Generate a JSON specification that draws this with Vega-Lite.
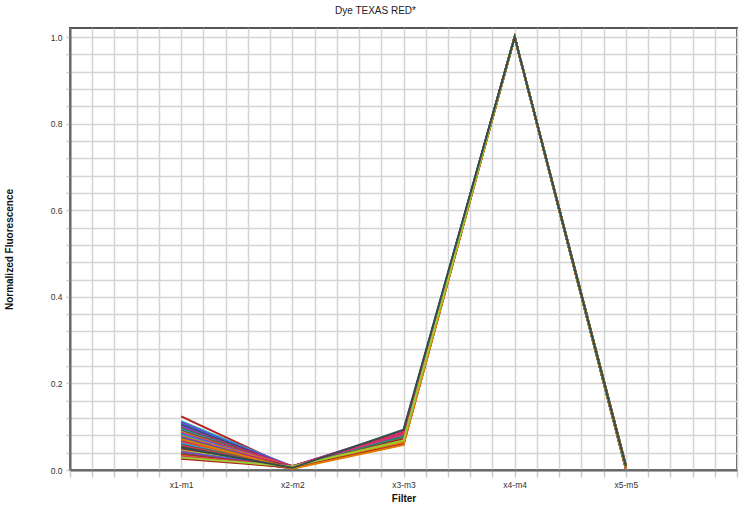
{
  "$schema": "https://vega.github.io/schema/vega-lite/v6.json",
  "width": 667,
  "height": 442,
  "autosize": {"type": "none"},
  "padding": {"left": 70, "top": 28, "right": 13, "bottom": 35},
  "background": "white",
  "title": {
    "text": "Dye TEXAS RED*",
    "font": "Liberation Sans",
    "fontSize": 10,
    "fontWeight": "normal",
    "color": "#222222",
    "anchor": "middle",
    "frame": "group",
    "dx": -28,
    "offset": 12
  },
  "config": {
    "view": {"stroke": "#555555", "strokeWidth": 2},
    "axis": {
      "labelFont": "Liberation Sans",
      "labelFontSize": 8.5,
      "labelColor": "#333333",
      "titleFont": "Liberation Sans",
      "titleFontSize": 10,
      "titleFontWeight": "bold",
      "titleColor": "#111111",
      "gridColor": "#d4d4d4",
      "gridWidth": 1.5,
      "gridOpacity": 1,
      "tickColor": "#c8c8c8",
      "tickWidth": 1.5,
      "domainColor": "#666666",
      "domainWidth": 2
    }
  },
  "data": {
    "values": [
      {"s":"S01","i":1,"v":0.124},{"s":"S01","i":2,"v":0.004},{"s":"S01","i":3,"v":0.071},{"s":"S01","i":4,"v":1.0},{"s":"S01","i":5,"v":0.006},
      {"s":"S02","i":1,"v":0.113},{"s":"S02","i":2,"v":0.007},{"s":"S02","i":3,"v":0.084},{"s":"S02","i":4,"v":1.0},{"s":"S02","i":5,"v":0.004},
      {"s":"S03","i":1,"v":0.110},{"s":"S03","i":2,"v":0.005},{"s":"S03","i":3,"v":0.079},{"s":"S03","i":4,"v":1.0},{"s":"S03","i":5,"v":0.009},
      {"s":"S04","i":1,"v":0.107},{"s":"S04","i":2,"v":0.009},{"s":"S04","i":3,"v":0.088},{"s":"S04","i":4,"v":1.0},{"s":"S04","i":5,"v":0.005},
      {"s":"S05","i":1,"v":0.104},{"s":"S05","i":2,"v":0.006},{"s":"S05","i":3,"v":0.075},{"s":"S05","i":4,"v":1.0},{"s":"S05","i":5,"v":0.011},
      {"s":"S06","i":1,"v":0.101},{"s":"S06","i":2,"v":0.003},{"s":"S06","i":3,"v":0.082},{"s":"S06","i":4,"v":1.0},{"s":"S06","i":5,"v":0.003},
      {"s":"S07","i":1,"v":0.098},{"s":"S07","i":2,"v":0.008},{"s":"S07","i":3,"v":0.090},{"s":"S07","i":4,"v":1.0},{"s":"S07","i":5,"v":0.007},
      {"s":"S08","i":1,"v":0.096},{"s":"S08","i":2,"v":0.005},{"s":"S08","i":3,"v":0.069},{"s":"S08","i":4,"v":1.0},{"s":"S08","i":5,"v":0.008},
      {"s":"S09","i":1,"v":0.093},{"s":"S09","i":2,"v":0.004},{"s":"S09","i":3,"v":0.077},{"s":"S09","i":4,"v":1.0},{"s":"S09","i":5,"v":0.006},
      {"s":"S10","i":1,"v":0.091},{"s":"S10","i":2,"v":0.007},{"s":"S10","i":3,"v":0.086},{"s":"S10","i":4,"v":1.0},{"s":"S10","i":5,"v":0.004},
      {"s":"S11","i":1,"v":0.088},{"s":"S11","i":2,"v":0.005},{"s":"S11","i":3,"v":0.073},{"s":"S11","i":4,"v":1.0},{"s":"S11","i":5,"v":0.009},
      {"s":"S12","i":1,"v":0.086},{"s":"S12","i":2,"v":0.009},{"s":"S12","i":3,"v":0.080},{"s":"S12","i":4,"v":1.0},{"s":"S12","i":5,"v":0.005},
      {"s":"S13","i":1,"v":0.083},{"s":"S13","i":2,"v":0.006},{"s":"S13","i":3,"v":0.066},{"s":"S13","i":4,"v":1.0},{"s":"S13","i":5,"v":0.011},
      {"s":"S14","i":1,"v":0.081},{"s":"S14","i":2,"v":0.003},{"s":"S14","i":3,"v":0.087},{"s":"S14","i":4,"v":1.0},{"s":"S14","i":5,"v":0.003},
      {"s":"S15","i":1,"v":0.078},{"s":"S15","i":2,"v":0.008},{"s":"S15","i":3,"v":0.074},{"s":"S15","i":4,"v":1.0},{"s":"S15","i":5,"v":0.007},
      {"s":"S16","i":1,"v":0.076},{"s":"S16","i":2,"v":0.005},{"s":"S16","i":3,"v":0.083},{"s":"S16","i":4,"v":1.0},{"s":"S16","i":5,"v":0.008},
      {"s":"S17","i":1,"v":0.073},{"s":"S17","i":2,"v":0.004},{"s":"S17","i":3,"v":0.070},{"s":"S17","i":4,"v":1.0},{"s":"S17","i":5,"v":0.006},
      {"s":"S18","i":1,"v":0.028},{"s":"S18","i":2,"v":0.007},{"s":"S18","i":3,"v":0.078},{"s":"S18","i":4,"v":1.0},{"s":"S18","i":5,"v":0.004},
      {"s":"S19","i":1,"v":0.068},{"s":"S19","i":2,"v":0.005},{"s":"S19","i":3,"v":0.085},{"s":"S19","i":4,"v":1.0},{"s":"S19","i":5,"v":0.009},
      {"s":"S20","i":1,"v":0.066},{"s":"S20","i":2,"v":0.009},{"s":"S20","i":3,"v":0.068},{"s":"S20","i":4,"v":1.0},{"s":"S20","i":5,"v":0.005},
      {"s":"S21","i":1,"v":0.063},{"s":"S21","i":2,"v":0.006},{"s":"S21","i":3,"v":0.076},{"s":"S21","i":4,"v":1.0},{"s":"S21","i":5,"v":0.011},
      {"s":"S22","i":1,"v":0.061},{"s":"S22","i":2,"v":0.003},{"s":"S22","i":3,"v":0.081},{"s":"S22","i":4,"v":1.0},{"s":"S22","i":5,"v":0.003},
      {"s":"S23","i":1,"v":0.058},{"s":"S23","i":2,"v":0.008},{"s":"S23","i":3,"v":0.064},{"s":"S23","i":4,"v":1.0},{"s":"S23","i":5,"v":0.007},
      {"s":"S24","i":1,"v":0.056},{"s":"S24","i":2,"v":0.005},{"s":"S24","i":3,"v":0.089},{"s":"S24","i":4,"v":1.0},{"s":"S24","i":5,"v":0.008},
      {"s":"S25","i":1,"v":0.053},{"s":"S25","i":2,"v":0.004},{"s":"S25","i":3,"v":0.072},{"s":"S25","i":4,"v":1.0},{"s":"S25","i":5,"v":0.006},
      {"s":"S26","i":1,"v":0.051},{"s":"S26","i":2,"v":0.007},{"s":"S26","i":3,"v":0.079},{"s":"S26","i":4,"v":1.0},{"s":"S26","i":5,"v":0.004},
      {"s":"S27","i":1,"v":0.049},{"s":"S27","i":2,"v":0.005},{"s":"S27","i":3,"v":0.067},{"s":"S27","i":4,"v":1.0},{"s":"S27","i":5,"v":0.009},
      {"s":"S28","i":1,"v":0.047},{"s":"S28","i":2,"v":0.009},{"s":"S28","i":3,"v":0.084},{"s":"S28","i":4,"v":1.0},{"s":"S28","i":5,"v":0.005},
      {"s":"S29","i":1,"v":0.045},{"s":"S29","i":2,"v":0.006},{"s":"S29","i":3,"v":0.062},{"s":"S29","i":4,"v":1.0},{"s":"S29","i":5,"v":0.011},
      {"s":"S30","i":1,"v":0.043},{"s":"S30","i":2,"v":0.003},{"s":"S30","i":3,"v":0.074},{"s":"S30","i":4,"v":1.0},{"s":"S30","i":5,"v":0.003},
      {"s":"S31","i":1,"v":0.041},{"s":"S31","i":2,"v":0.008},{"s":"S31","i":3,"v":0.080},{"s":"S31","i":4,"v":1.0},{"s":"S31","i":5,"v":0.007},
      {"s":"S32","i":1,"v":0.039},{"s":"S32","i":2,"v":0.005},{"s":"S32","i":3,"v":0.060},{"s":"S32","i":4,"v":1.0},{"s":"S32","i":5,"v":0.008},
      {"s":"S33","i":1,"v":0.037},{"s":"S33","i":2,"v":0.004},{"s":"S33","i":3,"v":0.077},{"s":"S33","i":4,"v":1.0},{"s":"S33","i":5,"v":0.006},
      {"s":"S34","i":1,"v":0.035},{"s":"S34","i":2,"v":0.007},{"s":"S34","i":3,"v":0.071},{"s":"S34","i":4,"v":1.0},{"s":"S34","i":5,"v":0.004},
      {"s":"S35","i":1,"v":0.033},{"s":"S35","i":2,"v":0.005},{"s":"S35","i":3,"v":0.065},{"s":"S35","i":4,"v":1.0},{"s":"S35","i":5,"v":0.009},
      {"s":"S36","i":1,"v":0.031},{"s":"S36","i":2,"v":0.009},{"s":"S36","i":3,"v":0.083},{"s":"S36","i":4,"v":1.0},{"s":"S36","i":5,"v":0.005},
      {"s":"S37","i":1,"v":0.026},{"s":"S37","i":2,"v":0.006},{"s":"S37","i":3,"v":0.059},{"s":"S37","i":4,"v":1.0},{"s":"S37","i":5,"v":0.011},
      {"s":"S38","i":1,"v":0.071},{"s":"S38","i":2,"v":0.003},{"s":"S38","i":3,"v":0.058},{"s":"S38","i":4,"v":1.0},{"s":"S38","i":5,"v":0.003},
      {"s":"S39","i":1,"v":0.029},{"s":"S39","i":2,"v":0.008},{"s":"S39","i":3,"v":0.068},{"s":"S39","i":4,"v":1.0},{"s":"S39","i":5,"v":0.007},
      {"s":"S40","i":1,"v":0.052},{"s":"S40","i":2,"v":0.005},{"s":"S40","i":3,"v":0.093},{"s":"S40","i":4,"v":1.0},{"s":"S40","i":5,"v":0.008}
    ]
  },
  "mark": {"type": "line", "strokeWidth": 2, "clip": true},
  "encoding": {
    "x": {
      "field": "i",
      "type": "quantitative",
      "title": "Filter",
      "scale": {"domain": [0, 6], "nice": false, "zero": false},
      "axis": {
        "values": [0,0.2,0.4,0.6,0.8,1,1.2,1.4,1.6,1.8,2,2.2,2.4,2.6,2.8,3,3.2,3.4,3.6,3.8,4,4.2,4.4,4.6,4.8,5,5.2,5.4,5.6,5.8,6],
        "labelExpr": "(abs(datum.value - round(datum.value)) < 0.001 && datum.value >= 1 && datum.value <= 5) ? 'x' + round(datum.value) + '-m' + round(datum.value) : ''",
        "tickSize": 7,
        "labelPadding": 3,
        "labelOverlap": false,
        "labelFlush": false,
        "titleY": 28,
        "titleBaseline": "middle"
      }
    },
    "y": {
      "field": "v",
      "type": "quantitative",
      "title": "Normalized Fluorescence",
      "scale": {"domain": [0, 1.021], "nice": false},
      "axis": {
        "values": [0,0.04,0.08,0.12,0.16,0.2,0.24,0.28,0.32,0.36,0.4,0.44,0.48,0.52,0.56,0.6,0.64,0.68,0.72,0.76,0.8,0.84,0.88,0.92,0.96,1.0],
        "labelExpr": "abs(datum.value * 5 - round(datum.value * 5)) < 0.001 ? format(datum.value, '.1f') : ''",
        "tickSize": 4,
        "labelPadding": 4,
        "labelOverlap": false,
        "labelFlush": false,
        "titleX": -61,
        "titleY": 221,
        "titleAngle": -90,
        "titleAlign": "center",
        "titleBaseline": "middle"
      }
    },
    "color": {
      "field": "s",
      "type": "nominal",
      "legend": null,
      "scale": {
        "domain": ["S01","S02","S03","S04","S05","S06","S07","S08","S09","S10","S11","S12","S13","S14","S15","S16","S17","S18","S19","S20","S21","S22","S23","S24","S25","S26","S27","S28","S29","S30","S31","S32","S33","S34","S35","S36","S37","S38","S39","S40"],
        "range": ["#b22222","#20b2aa","#8a2be2","#4169e1","#2f4f4f","#6a5acd","#c71585","#2e8b57","#1e90ff","#8b4513","#9acd32","#d6336c","#4169e1","#20b2aa","#e07b00","#8a2be2","#2e8b57","#b22222","#6a5acd","#c71585","#e07b00","#1e90ff","#556b2f","#d6336c","#8b4513","#2e8b57","#c71585","#b22222","#9acd32","#d6336c","#4169e1","#c71585","#2e8b57","#b22222","#e07b00","#d6336c","#b22222","#e07b00","#9acd32","#2f4f4f"]
      }
    }
  }
}
